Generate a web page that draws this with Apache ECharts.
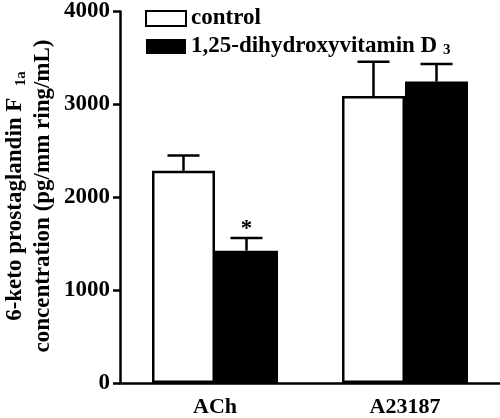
<!DOCTYPE html>
<html>
<head>
<meta charset="utf-8">
<script src="https://cdn.jsdelivr.net/npm/echarts@6/dist/echarts.min.js"></script>
<style>
html,body{margin:0;padding:0;background:#fff;}
#chart{width:500px;height:418px;}
</style>
</head>
<body>
<div id="chart"></div>
<script>
var categories = ['ACh', 'A23187'];
var controlMean = [2285, 3090];
var controlSem = [165, 370];
var vitDMean = [1425, 3245];
var vitDSem = [135, 190];
var vitDSig = ['*', ''];
var yTicks = [0, 1000, 2000, 3000, 4000];

var FONT = '"Liberation Serif", "Times New Roman", serif';
var chart = echarts.init(document.getElementById('chart'));
var BAR_W = 63;

function errSeries(name, means, sems, sig, offset) {
  return {
    type: 'custom',
    name: name + '_err',
    z: 5,
    silent: true,
    encode: { x: 0, y: 1 },
    data: means.map(function (m, i) { return [i, m, sems[i]]; }),
    renderItem: function (params, api) {
      var i = api.value(0), m = api.value(1), s = api.value(2);
      var b = api.coord([i, m]);
      var t = api.coord([i, m + s]);
      var x = b[0] + offset;
      var ls = { stroke: '#000', lineWidth: 2.5 };
      var ch = [
        { type: 'line', shape: { x1: x, y1: b[1], x2: x, y2: t[1] }, style: ls },
        { type: 'line', shape: { x1: x - 16, y1: t[1], x2: x + 16, y2: t[1] }, style: ls }
      ];
      var label = sig ? sig[params.dataIndex] : '';
      if (label) {
        ch.push({ type: 'text', x: x, y: t[1] + 2, style: { text: label, fill: '#000', font: 'bold 23px ' + FONT, align: 'center', verticalAlign: 'bottom' } });
      }
      return { type: 'group', children: ch };
    }
  };
}

var option = {
  animation: false,
  backgroundColor: '#fff',
  grid: { left: 120, right: 0, top: 6, bottom: 30 },
  legend: {
    orient: 'vertical',
    left: 145,
    top: 7,
    padding: 0,
    itemWidth: 40,
    itemHeight: 15,
    itemGap: 5,
    icon: 'rect',
    data: ['control', 'vitD'],
    formatter: function (n) { return n === 'control' ? 'control' : '1,25-dihydroxyvitamin D {sub|3}'; },
    textStyle: {
      fontFamily: FONT, fontWeight: 'bold', fontSize: 23, color: '#000', lineHeight: 22,
      rich: { sub: { fontFamily: FONT, fontWeight: 'bold', fontSize: 15, lineHeight: 12, verticalAlign: 'bottom', color: '#000' } }
    }
  },
  xAxis: {
    type: 'category',
    data: categories,
    axisLine: { lineStyle: { color: '#000', width: 2.5 } },
    axisTick: { alignWithLabel: true, length: 7, lineStyle: { color: '#000', width: 2.5 } },
    axisLabel: { fontFamily: FONT, fontWeight: 'bold', fontSize: 22, color: '#000', margin: 13 }
  },
  yAxis: {
    type: 'value',
    min: yTicks[0],
    max: yTicks[yTicks.length - 1],
    interval: yTicks[1] - yTicks[0],
    splitLine: { show: false },
    axisLine: { show: true, lineStyle: { color: '#000', width: 2.5 } },
    axisTick: { show: true, length: 7, lineStyle: { color: '#000', width: 2.5 } },
    axisLabel: { fontFamily: FONT, fontWeight: 'bold', fontSize: 23, color: '#000', margin: 10, formatter: function (v) { return String(v); } }
  },
  graphic: [{
    type: 'text',
    x: 29,
    y: 196,
    rotation: Math.PI / 2,
    style: {
      text: '6-keto prostaglandin F  {sub|1a}\nconcentration (pg/mm ring/mL)',
      font: 'bold 23px ' + FONT,
      fill: '#000',
      align: 'center',
      verticalAlign: 'middle',
      lineHeight: 28,
      rich: { sub: { fontFamily: FONT, fontWeight: 'bold', fontSize: 15, lineHeight: 14, verticalAlign: 'bottom', fill: '#000' } }
    }
  }],
  series: [
    { type: 'bar', name: 'control', data: controlMean, barWidth: BAR_W, barGap: '0%', itemStyle: { color: '#fff', borderColor: '#000', borderWidth: 2.5 } },
    { type: 'bar', name: 'vitD', data: vitDMean, barWidth: BAR_W, barGap: '0%', itemStyle: { color: '#000', borderColor: '#000', borderWidth: 0 } },
    errSeries('control', controlMean, controlSem, null, -BAR_W / 2),
    errSeries('vitD', vitDMean, vitDSem, vitDSig, BAR_W / 2)
  ]
};
chart.setOption(option);
</script>
</body>
</html>
